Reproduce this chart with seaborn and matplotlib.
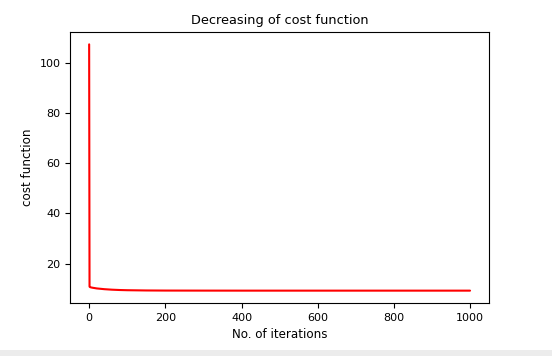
import numpy as np
import pandas as pd
import matplotlib
matplotlib.use("Agg")
import matplotlib.pyplot as plt
import seaborn as sns
from matplotlib.patches import Rectangle

iterations = [0, 1, 2, 5, 10, 20, 40, 60, 80, 100, 150, 200, 300, 400, 500, 600, 700, 800, 900, 1000]
cost = [107.3, 10.9, 10.7, 10.55, 10.4, 10.15, 9.85, 9.65, 9.52, 9.44, 9.34, 9.3, 9.28, 9.27, 9.27,
        9.27, 9.27, 9.27, 9.27, 9.27]

df = pd.DataFrame({"iteration": iterations, "cost": cost})

sns.set_style("ticks", {"text.color": "black", "axes.labelcolor": "black",
                        "xtick.color": "black", "ytick.color": "black",
                        "axes.edgecolor": "black"})
plt.rcParams["font.family"] = ["DejaVu Sans"]

fig = plt.figure(figsize=(5.52, 3.56), dpi=100)
ax = fig.add_axes([0.127, 0.149, 0.759, 0.761])

sns.lineplot(data=df, x="iteration", y="cost", color="red", linewidth=1.5, ax=ax)

ax.set_xticks([0, 200, 400, 600, 800, 1000])
ax.set_yticks([20, 40, 60, 80, 100])
ax.tick_params(labelsize=8, length=3.5, width=0.8, color="black", labelcolor="black")
for s in ax.spines.values():
    s.set_visible(True)
    s.set_color("black")
    s.set_linewidth(0.8)

ax.set_title("Decreasing of cost function", fontsize=9.3, color="black")
ax.set_xlabel("No. of iterations", fontsize=8.6)
ax.set_ylabel("cost function", fontsize=8.6)

# light grey band at the bottom edge of the screenshot
fig.add_artist(Rectangle((0, 0), 1, 0.017, transform=fig.transFigure, color="#ececec", lw=0))

fig.savefig("out.png", dpi=100)
